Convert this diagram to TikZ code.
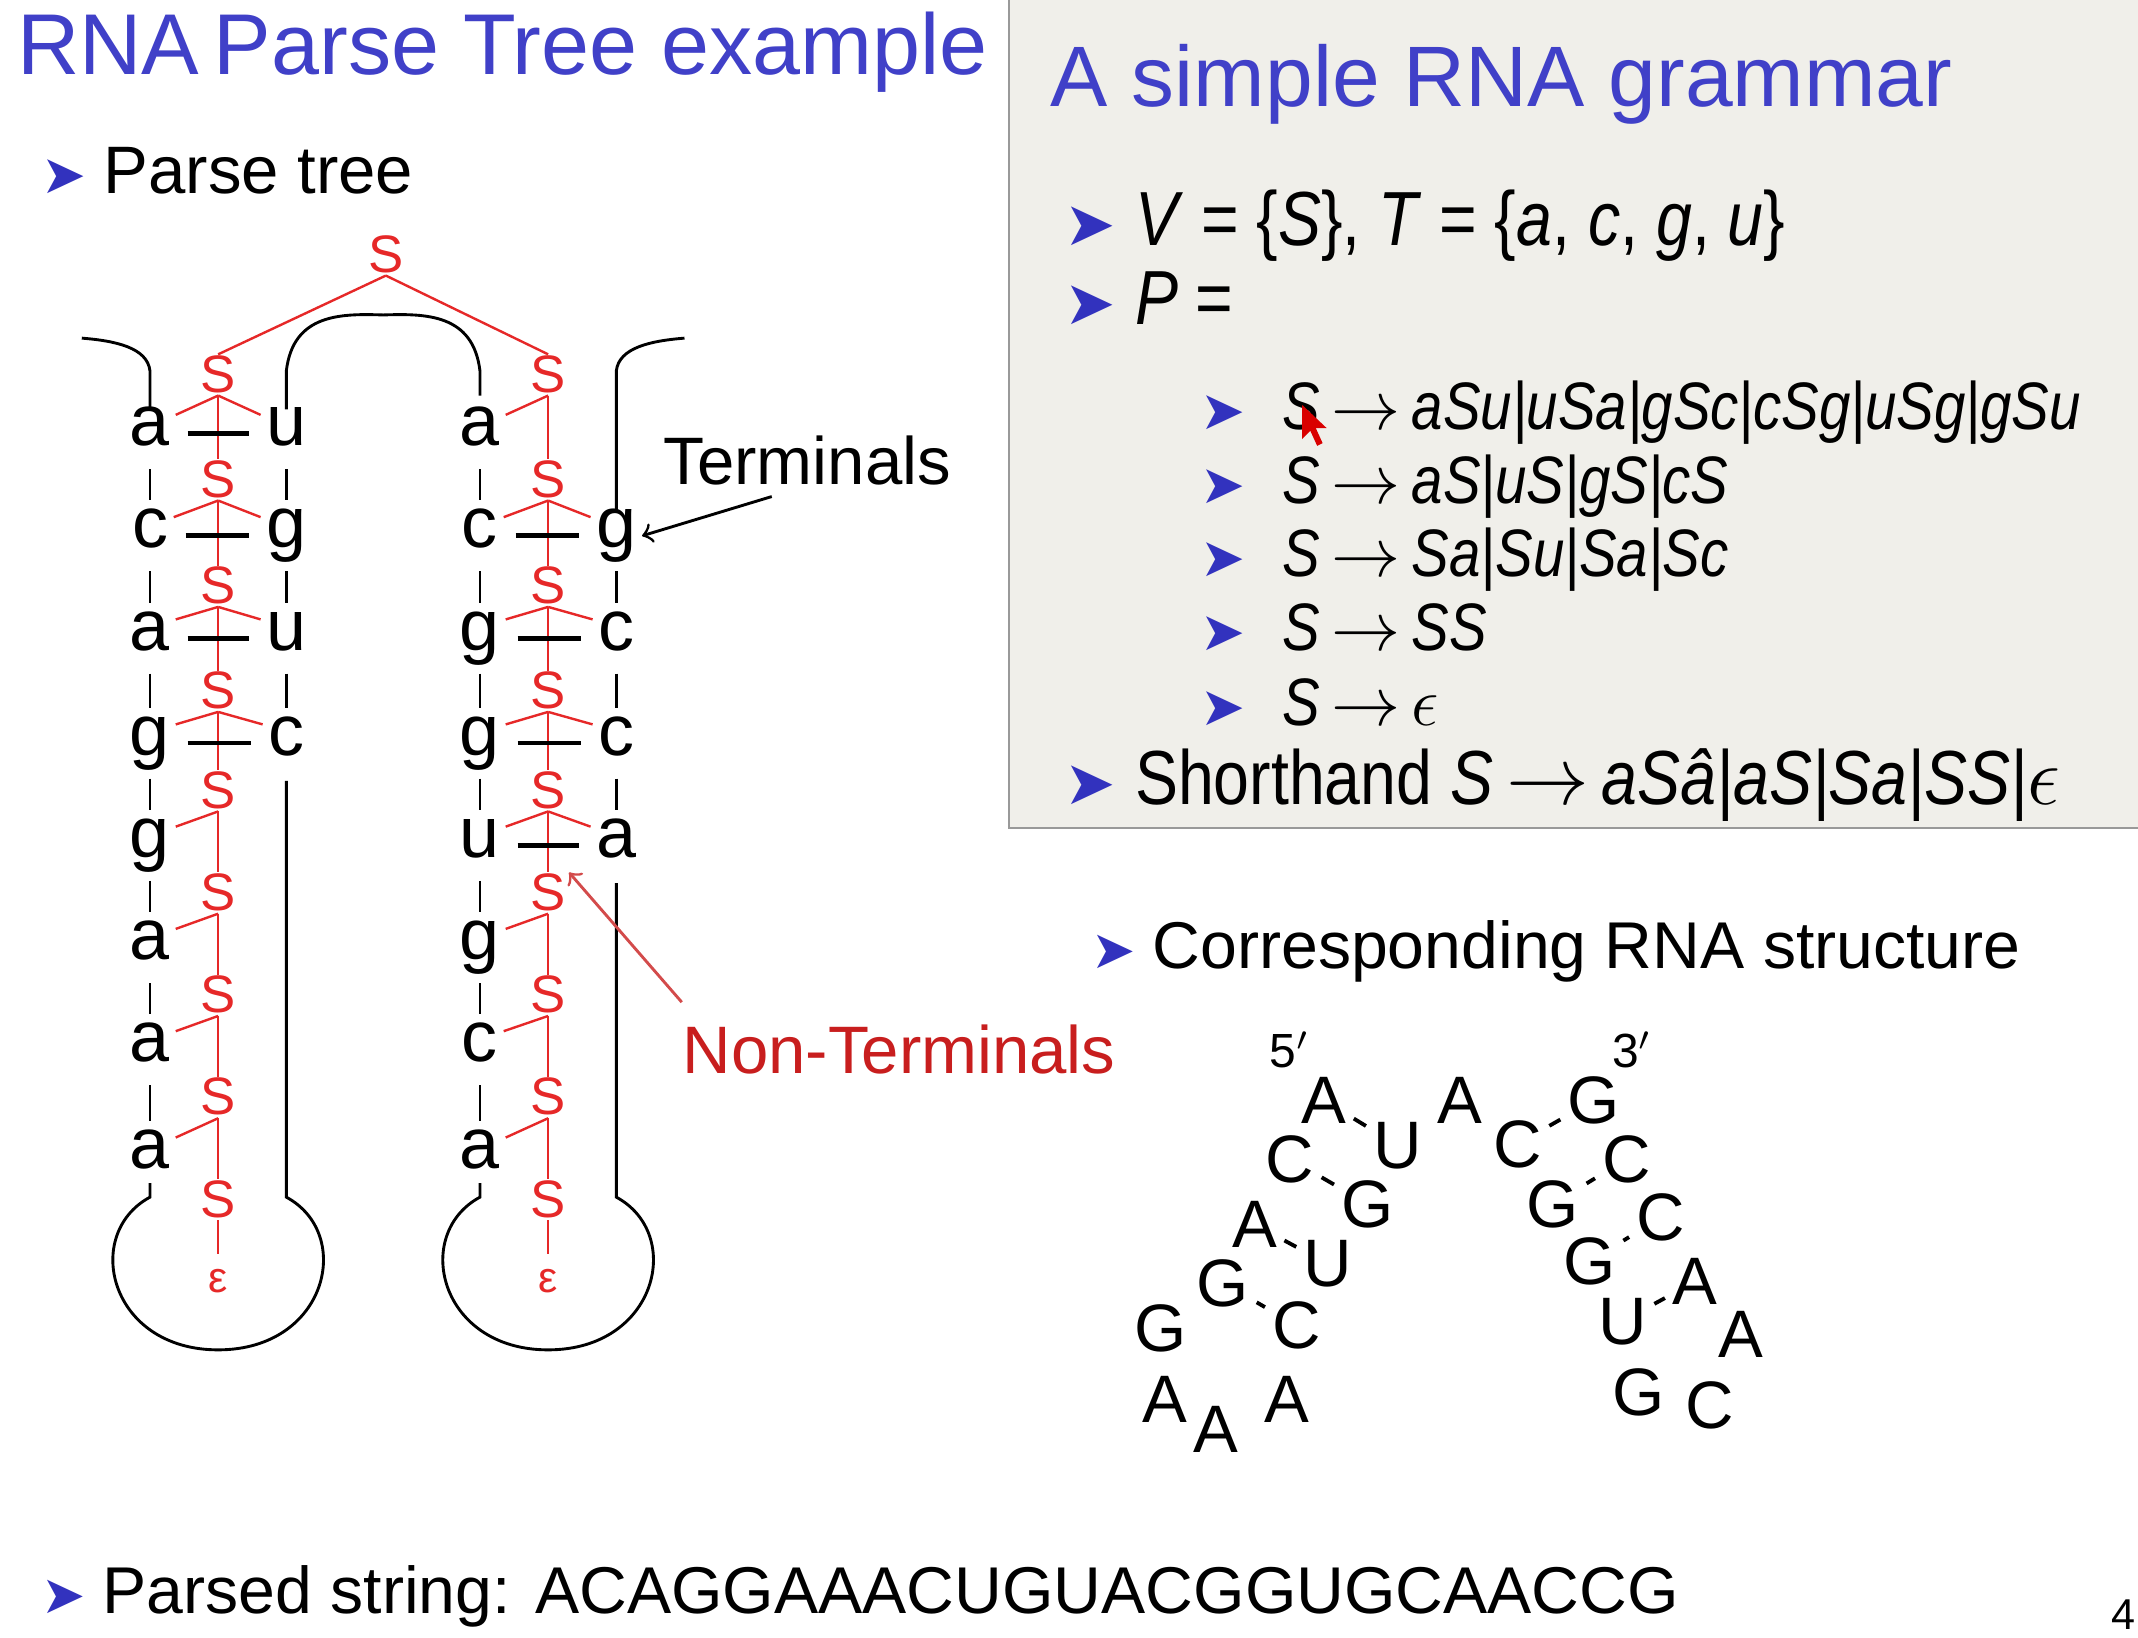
\documentclass[tikz,border=0pt]{standalone}
\usepackage{fontspec}
\setmainfont{Liberation Sans}
\newfontfamily\dv{DejaVu Sans}
\newfontfamily\cnd{Liberation Sans}[FakeStretch=0.84]
\definecolor{ttl}{RGB}{64,64,200}
\definecolor{bul}{RGB}{50,50,190}
\definecolor{trd}{RGB}{230,40,40}
\definecolor{ntc}{RGB}{200,30,30}
\definecolor{panel}{RGB}{240,239,234}
\newcommand{\fs}[1]{\fontsize{#1}{#1}\selectfont}
\newcommand{\bu}{{\dv\textcolor{bul}{\fontsize{0.8em}{1em}\selectfont ➤}}\hspace{0.25em}}
\newcommand{\ar}{\,$\rightarrow$\,}
\begin{document}
\begin{tikzpicture}[x=0.01cm,y=-0.01cm,
  lt/.style={inner sep=1pt,font=\fs{15},text height=0.52em,text depth=0.02em},
  sn/.style={inner sep=0.5pt,font=\fs{11},text=trd,text height=0.72em,text depth=0pt},
  rn/.style={inner sep=0.5pt,font=\fs{14}},
  red/.style={draw=trd,line width=0.5pt},
  bb/.style={draw=black,line width=0.6pt},
  bbdash/.style={bb,shorten <=3.5pt,shorten >=3.5pt},
  bar/.style={draw=black,line width=1pt,shorten <=2.5pt,shorten >=2.5pt},
  txt/.style={anchor=base west,inner sep=0pt}]
\useasboundingbox (0,0) rectangle (1568,1201);
\clip (0,0) rectangle (1568,1201);
\fill[white] (0,0) rectangle (1568,1201);
% titles
\node[txt,text=ttl,font=\fs{18}] (title) at (12,55) {RNA\,Parse Tree example};
\node[txt,font=\fs{14}] (pt) at (30,142) {\bu Parse tree};
% ---------- parse tree ----------
\node[sn] (root) at (283,187) {S};
\foreach \i/\y in {1/275,2/352,3/430,4/507,5/580,6/655,7/730,8/805,9/880}{
  \node[sn] (s\i) at (160,\y) {S};
  \node[sn] (t\i) at (402,\y) {S};
}
\node[sn,font=\fs{9}] (se) at (160,935) {ε};
\node[sn,font=\fs{9}] (te) at (402,935) {ε};
\foreach \i/\y/\c in {1/318/a,2/393/c,3/468/a,4/545/g,5/620/g,6/695/a,7/770/a,8/848/a}
  \node[lt] (l\i) at (110,\y) {\c};
\foreach \i/\y/\c in {1/318/u,2/393/g,3/468/u,4/545/c}
  \node[lt] (r\i) at (210,\y) {\c};
\foreach \i/\y/\c in {1/318/a,2/393/c,3/468/g,4/545/g,5/620/u,6/695/g,7/770/c,8/848/a}
  \node[lt] (m\i) at (352,\y) {\c};
\foreach \i/\y/\c in {2/393/g,3/468/c,4/545/c,5/620/a}
  \node[lt] (n\i) at (452,\y) {\c};
% tree edges
\draw[red] (root.south) -- (s1.north);
\draw[red] (root.south) -- (t1.north);
\foreach \i [evaluate=\i as \j using int(\i+1)] in {1,...,8}{
  \draw[red] (s\i.south) -- (s\j.north);
  \draw[red] (t\i.south) -- (t\j.north);
  \draw[red] (s\i.south) -- (l\i.north east);
  \draw[red] (t\i.south) -- (m\i.north east);
}
\draw[red] (s9.south) -- (se.north);
\draw[red] (t9.south) -- (te.north);
\foreach \i in {1,...,4} \draw[red] (s\i.south) -- (r\i.north west);
\foreach \i in {2,...,5} \draw[red] (t\i.south) -- (n\i.north west);
% base pair bars
\foreach \i in {1,...,4} \draw[bar] (l\i) -- (r\i);
\foreach \i in {2,...,5} \draw[bar] (m\i) -- (n\i);
% backbone dashes
\foreach \i [evaluate=\i as \j using int(\i+1)] in {1,...,7}{
  \draw[bbdash] (l\i) -- (l\j);
  \draw[bbdash] (m\i) -- (m\j);
}
\foreach \i [evaluate=\i as \j using int(\i+1)] in {1,...,3}{
  \draw[bbdash] (r\i) -- (r\j);
}
\foreach \i [evaluate=\i as \j using int(\i+1)] in {2,...,4}{
  \draw[bbdash] (n\i) -- (n\j);
}
% backbone long strokes
\coordinate (c1) at (110,272); \coordinate (c2) at (60,248);
\draw[bb] (l1.north) ++(0,-4) -- (c1) .. controls (108,255) and (85,250) .. (c2);
\coordinate (a1) at (210,272); \coordinate (a2) at (352,272);
\draw[bb] (r1.north) ++(0,-4) -- (a1) .. controls (215,230) and (250,230) .. (281,231) .. controls (312,230) and (347,230) .. (a2) -- ([yshift=4]m1.north);
\coordinate (b1) at (452,272); \coordinate (b2) at (502,248);
\draw[bb] (n2.north) ++(0,-4) -- (b1) .. controls (454,255) and (477,250) .. (b2);
\coordinate (p1) at (110,878); \coordinate (p2) at (210,878);
\draw[bb] (l8.south) ++(0,6) -- (p1) .. controls (60,905) and (80,990) .. (160,990) .. controls (240,990) and (260,905) .. (p2) -- ([yshift=-4]r4.south);
\coordinate (q1) at (352,878); \coordinate (q2) at (452,878);
\draw[bb] (m8.south) ++(0,6) -- (q1) .. controls (302,905) and (322,990) .. (402,990) .. controls (482,990) and (502,905) .. (q2) -- ([yshift=-4]n5.south);
% labels
\node[txt,font=\fs{14}] (term) at (486,355) {Terminals};
\draw[->,line width=0.6pt] (term.south west) ++(80,8) coordinate (tx) -- (n2.east);
\node[txt,font=\fs{14},text=ntc] (nonterm) at (500,787) {Non-Terminals};
\coordinate (nx) at (500,735);
\draw[->,draw=ntc!80,line width=0.6pt] (nx) -- (t6.north east);
% ---------- grammar panel ----------
\draw[fill=panel,draw=black!40] (740,-2) rectangle (1570,607);
\node[txt,text=ttl,font=\fs{17.9}] (gt) at (770,78) {A simple RNA grammar};
\node[txt,font=\fs{16}] (g1) at (780,180) {\bu{\cnd\textit{V} = \{\textit{S}\}, \textit{T} = \{\textit{a}, \textit{c}, \textit{g}, \textit{u}\}}};
\node[txt,font=\fs{16}] (g2) at (780,238) {\bu{\cnd\textit{P} =}};
\node[txt,font=\fs{14}] (r1t) at (880,315) {\bu\hspace{0.3em}{\cnd\textit{S}\ar\textit{aSu|uSa|gSc|cSg|uSg|gSu}}};
\node[txt,font=\fs{14}] (r2t) at (880,369) {\bu\hspace{0.3em}{\cnd\textit{S}\ar\textit{aS|uS|gS|cS}}};
\node[txt,font=\fs{14}] (r3t) at (880,423) {\bu\hspace{0.3em}{\cnd\textit{S}\ar\textit{Sa|Su|Sa|Sc}}};
\node[txt,font=\fs{14}] (r4t) at (880,477) {\bu\hspace{0.3em}{\cnd\textit{S}\ar\textit{SS}}};
\node[txt,font=\fs{14}] (r5t) at (880,532) {\bu\hspace{0.3em}{\cnd\textit{S}\ar$\epsilon$}};
\node[txt,font=\fs{16}] (sh) at (780,590) {\bu{\cnd Shorthand \textit{S}\ar\textit{aSâ|aS|Sa|SS|}$\epsilon$}};
% cursor
\fill[red!85!black] (955,297) -- (955,322) -- (961,316) -- (966,327) -- (970,325) -- (965,314) -- (973,314) -- cycle;
% ---------- RNA structure ----------
\node[txt,font=\fs{13.8}] (cs) at (800,710) {\bu Corresponding RNA structure};
\node[rn,font=\fs{10}] (p5) at (946,770) {5$'$};
\node[rn,font=\fs{10}] (p3) at (1197,770) {3$'$};
\node[rn] (A1) at (971,807) {A};
\node[rn] (U1) at (1025,840) {U};
\node[rn] (A2) at (1071,807) {A};
\node[rn] (C5) at (1113,839) {C};
\node[rn] (G5) at (1169,807) {G};
\node[rn] (C1) at (946,850) {C};
\node[rn] (G1) at (1003,883) {G};
\node[rn] (C6) at (1193,850) {C};
\node[rn] (A3) at (920,898) {A};
\node[rn] (U2) at (974,927) {U};
\node[rn] (G6) at (1139,883) {G};
\node[rn] (C7) at (1218,893) {C};
\node[rn] (G2) at (897,941) {G};
\node[rn] (C2) at (951,972) {C};
\node[rn] (G7) at (1166,925) {G};
\node[rn] (A7) at (1243,940) {A};
\node[rn] (G3) at (851,974) {G};
\node[rn] (U7) at (1190,969) {U};
\node[rn] (A8) at (1277,979) {A};
\node[rn] (A4) at (854,1026) {A};
\node[rn] (A5) at (892,1048) {A};
\node[rn] (A6) at (944,1026) {A};
\node[rn] (G8) at (1202,1021) {G};
\node[rn] (C8) at (1254,1031) {C};
\foreach \a/\b in {A1/U1,C1/G1,A3/U2,G2/C2,C5/G5,G6/C6,G7/C7,U7/A7}
  \draw[line width=0.8pt,shorten <=1pt,shorten >=1pt] (\a) -- (\b);
% ---------- bottom ----------
\node[txt,font=\fs{13.8}] (ps) at (30,1183) {\bu Parsed string: ACAGGAAACUGUACGGUGCAACCG};
\node[txt,font=\fs{9}] (pg) at (1548,1195) {41};
\end{tikzpicture}
\end{document}
